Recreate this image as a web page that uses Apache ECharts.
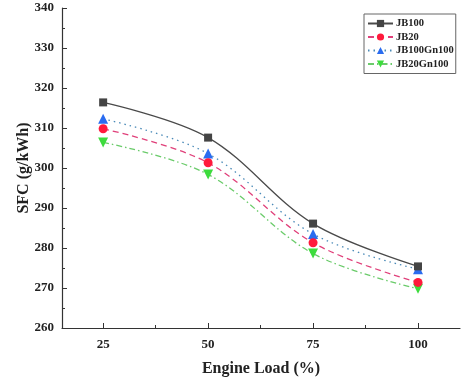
<!DOCTYPE html>
<html><head><meta charset="utf-8">
<script src="https://cdn.jsdelivr.net/npm/echarts@6/dist/echarts.min.js"></script>
<style>html,body{margin:0;padding:0;background:#fff}#c{width:474px;height:389px}</style>
</head><body><div id="c"></div>
<script>
const loads = [25, 50, 75, 100];
const minorLoads = [37.5, 62.5, 87.5];
const jb100 = [316.4, 307.6, 286.1, 275.4];
const jb20 = [309.8, 301.3, 281.3, 271.4];
const jb100gn100 = [312.3, 303.6, 283.5, 274.7];
const jb20gn100 = [306.4, 298.4, 278.6, 269.8];
const seriesNames = ['JB100', 'JB20', 'JB100Gn100', 'JB20Gn100'];
const yTicks = [260, 270, 280, 290, 300, 310, 320, 330, 340];

const font = '"Liberation Serif", "Times New Roman", serif';
const pairs = (ys) => loads.map((x, i) => [x, ys[i]]);

const styles = [
  {color: '#444', line: '#4a4a4a', symbol: 'rect', type: 'solid', size: 8},
  {color: '#ff1a3c', line: '#e0407a', symbol: 'circle', type: [6, 4], size: 9},
  {color: '#2a6cf0', line: '#4a8ab8', symbol: 'triangle', type: [1.5, 4], size: 10},
  {color: '#3ddc3d', line: '#6acb6a', symbol: 'path://M0,0 L10,0 L5,9 Z', type: [6, 3, 1.5, 3], size: 10}
];
const data = [jb100, jb20, jb100gn100, jb20gn100];

const chart = echarts.init(document.getElementById('c'));
chart.setOption({
  animation: false,
  backgroundColor: '#fff',
  grid: {left: 62, top: 8, right: 14, bottom: 61},
  legend: {
    orient: 'vertical', left: 364, top: 14,
    padding: [4, 2, 4, 3],
    borderColor: '#666', borderWidth: 1,
    itemWidth: 25, itemHeight: 9, itemGap: 2.5,
    textStyle: {fontFamily: font, fontWeight: 'bold', fontSize: 10.5, color: '#222', padding: [0, 0, 0, -2]},
    data: seriesNames
  },
  xAxis: [{
    type: 'value', min: 15.2, max: 110,
    name: 'Engine Load (%)', nameLocation: 'middle', nameGap: 33,
    nameTextStyle: {fontFamily: font, fontWeight: 'bold', fontSize: 16, color: '#222'},
    axisLine: {show: true, lineStyle: {color: '#333', width: 1.2}},
    axisTick: {show: true, inside: true, length: 5, customValues: loads, lineStyle: {color: '#333'}},
    axisLabel: {customValues: loads, fontFamily: font, fontWeight: 'bold', fontSize: 13, color: '#222', margin: 10},
    splitLine: {show: false}
  }, {
    type: 'value', min: 15.2, max: 110, position: 'bottom',
    axisLine: {show: false},
    axisTick: {show: true, inside: true, length: 3, customValues: minorLoads, lineStyle: {color: '#333'}},
    axisLabel: {show: false, customValues: minorLoads},
    splitLine: {show: false}
  }],
  yAxis: {
    type: 'value', min: 260, max: 340, interval: 10,
    name: 'SFC (g/kWh)', nameLocation: 'middle', nameGap: 30, nameMoveOverlap: false,
    nameTextStyle: {fontFamily: font, fontWeight: 'bold', fontSize: 16, color: '#222'},
    axisLine: {show: true, lineStyle: {color: '#333', width: 1.2}},
    axisTick: {show: true, inside: true, length: 5, lineStyle: {color: '#333'}},
    minorTick: {show: true, splitNumber: 2, length: 3, lineStyle: {color: '#333'}},
    axisLabel: {fontFamily: font, fontWeight: 'bold', fontSize: 13, color: '#222', margin: 8,
      formatter: (v) => yTicks.includes(v) ? String(v) : ''},
    splitLine: {show: false}
  },
  series: data.map((d, i) => ({
    name: seriesNames[i], type: 'line', smooth: 0.35,
    data: pairs(d),
    symbol: styles[i].symbol, symbolSize: styles[i].size,
    itemStyle: {color: styles[i].color},
    lineStyle: {color: styles[i].line, width: 1.3, type: styles[i].type},
    z: 10 - i
  }))
});
</script></body></html>
